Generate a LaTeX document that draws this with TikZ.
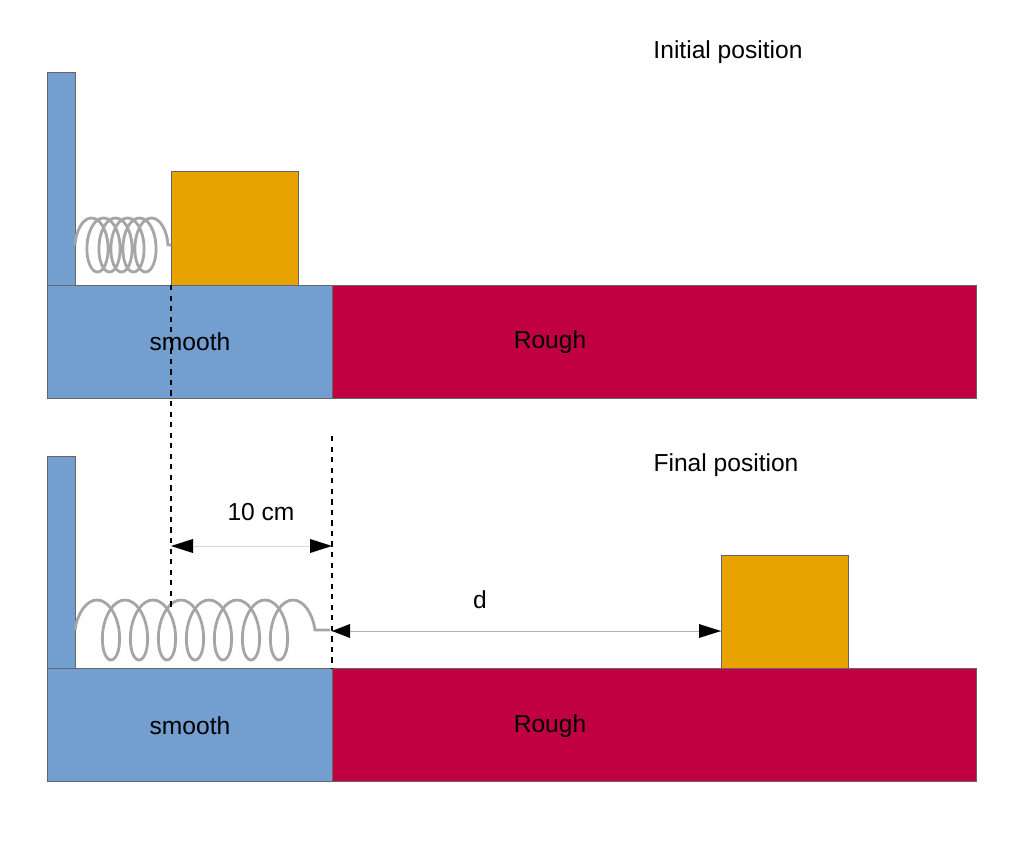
\documentclass[tikz,border=0pt]{standalone}
\usepackage{fontspec}
\setmainfont{Liberation Sans}
\usetikzlibrary{arrows.meta,decorations.pathmorphing}
\definecolor{wallblue}{HTML}{729FCF}
\definecolor{roughred}{HTML}{C00040}
\definecolor{blockorange}{HTML}{E8A202}
\tikzset{
  smooth part/.style={fill=wallblue,draw=black!60,line width=0.4pt},
  rough part/.style={fill=roughred,draw=black!60,line width=0.4pt},
  block/.style={fill=blockorange,draw=black!60,line width=0.4pt},
  spring/.style={draw=gray!70,line width=1.6pt,decorate,decoration={coil,aspect=0.5}},
  label/.style={font=\fontsize{14}{16}\selectfont},
  tip/.style={{Latex[length=11pt,width=8pt]}-{Latex[length=11pt,width=8pt]}}
}
\begin{document}
\begin{tikzpicture}[x=0.02cm,y=-0.02cm]
  \useasboundingbox (0,0) rectangle (1024,861);

  % initial position
  \fill[smooth part] (47,72) rectangle (75,285);
  \fill[smooth part] (47,285) rectangle (332,398);
  \fill[rough part] (332,285) rectangle (976,398);
  \fill[block] (171,171) rectangle (298,285);
  \draw[spring,decoration={amplitude=27*0.02cm,segment length=12*0.02cm}] (75,245) -- (171,245);
  \node[label] (initial) at (728,52) {Initial position};
  \node[label] (smoothA) at (190,342) {smooth};
  \node[label] (roughA) at (550,342) {Rough};

  % final position
  \fill[smooth part] (47,456) rectangle (75,668);
  \fill[smooth part] (47,668) rectangle (332,781);
  \fill[rough part] (332,668) rectangle (976,781);
  \fill[block] (721,555) rectangle (848,668);
  \draw[spring,decoration={amplitude=30*0.02cm,segment length=28*0.02cm}] (75,630) -- (330,630);
  \node[label] (final) at (726,465) {Final position};
  \node[label] (smoothB) at (190,726) {smooth};
  \node[label] (roughB) at (550,726) {Rough};

  % dimensions
  \coordinate (startTop) at (171,285);
  \coordinate (startBot) at (171,610);
  \coordinate (edgeTop) at (332,436);
  \coordinate (edgeBot) at (332,668);
  \draw[dashed,thick] (startTop) -- (startBot);
  \draw[dashed,thick] (edgeTop) -- (edgeBot);
  \coordinate (tenL) at (171,546);
  \coordinate (tenR) at (332,546);
  \draw[tip,black!15,thin] (tenL) -- (tenR);
  \fill (tenL) -- ++(22,-7) -- ++(0,14) -- cycle;
  \fill (tenR) -- ++(-22,-7) -- ++(0,14) -- cycle;
  \node[label] (ten) at (261,512) {10 cm};
  \coordinate (dL) at (332,631);
  \coordinate (dR) at (721,631);
  \draw[black!30,thin] (dL) -- (dR);
  \fill (dL) -- ++(18,-7) -- ++(0,14) -- cycle;
  \fill (dR) -- ++(-22,-7) -- ++(0,14) -- cycle;
  \node[label] (dist) at (480,600) {d};
\end{tikzpicture}
\end{document}
